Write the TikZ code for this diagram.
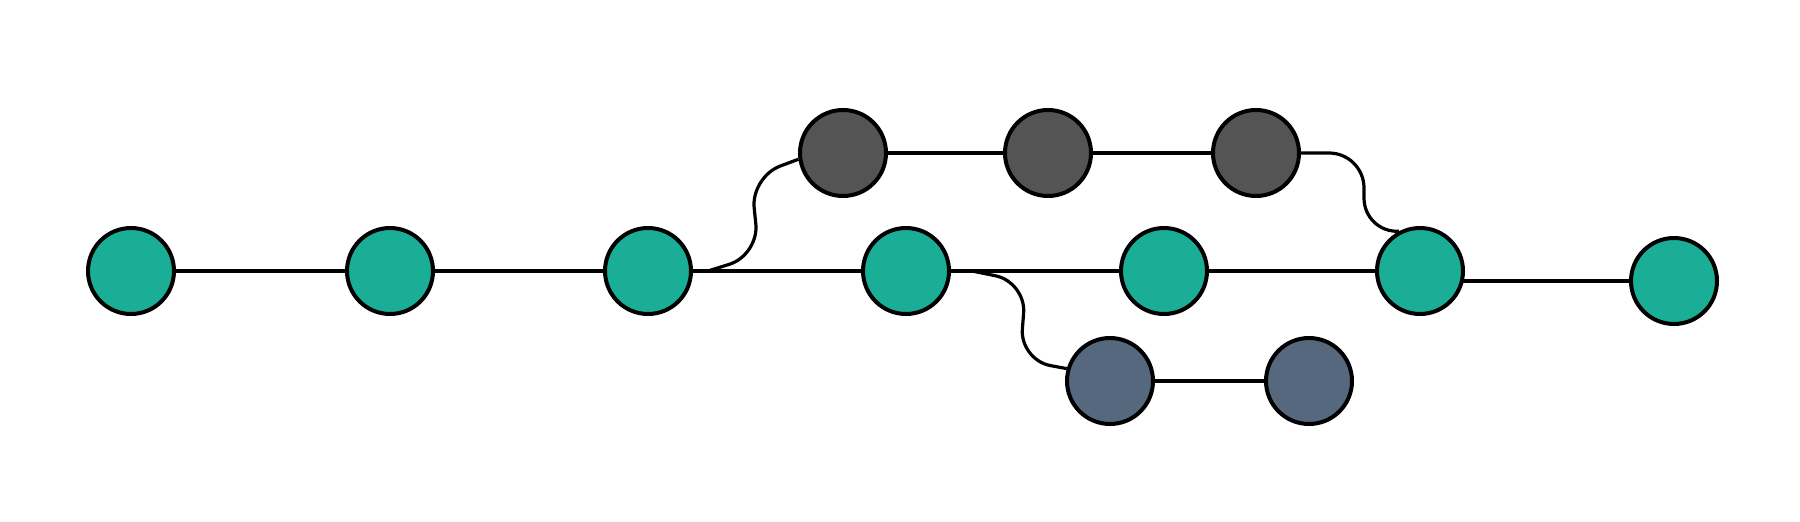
\documentclass[tikz,border=0pt]{standalone}
\usetikzlibrary{backgrounds}
\definecolor{tealc}{HTML}{1AAE96}
\definecolor{darkc}{HTML}{545454}
\definecolor{bluec}{HTML}{55687D}
\tikzset{
  commit/.style={circle, draw=black, line width=4pt, inner sep=0pt, minimum size=86pt},
  tealcommit/.style={commit, fill=tealc},
  darkcommit/.style={commit, fill=darkc},
  bluecommit/.style={commit, fill=bluec},
  link/.style={draw=black, line width=3.2pt},
  branchlink/.style={link, rounded corners=31pt},
}
\begin{document}
\begin{tikzpicture}[x=1pt, y=-1pt]
\useasboundingbox (0,0) rectangle (1800,522);
% main line
\node[tealcommit] (t1) at (131,271) {};
\node[tealcommit] (t2) at (390,271) {};
\node[tealcommit] (t3) at (648,271) {};
\node[tealcommit] (t4) at (906,271) {};
\node[tealcommit] (t5) at (1164,271) {};
\node[tealcommit] (t6) at (1420,271) {};
\node[tealcommit] (t7) at (1674,281) {};
% upper branch
\node[darkcommit] (d1) at (843,153) {};
\node[darkcommit] (d2) at (1048,153) {};
\node[darkcommit] (d3) at (1256,153) {};
% lower branch
\node[bluecommit] (b1) at (1110,381) {};
\node[bluecommit] (b2) at (1309,381) {};
\begin{scope}[on background layer]
  \draw[link] (t1) -- (t2) -- (t3) -- (t4) -- (t5) -- (t6);
  \draw[link] (t6.center |- t7.center) -- (t7.center);
  \draw[link] (d1) -- (d2) -- (d3);
  \draw[link] (b1) -- (b2);
  \draw[branchlink] ([xshift=60pt]t3.center) -- (759,255) -- (751,177) -- (d1.188);
  \draw[branchlink] ([xshift=66pt]t4.center) -- (1026,282) -- (1020,360) -- (b1.164);
  \draw[link, rounded corners=35pt] (d3.center) -- (1364,153) -- (1364,233) -- (t6.118);
\end{scope}
\end{tikzpicture}
\end{document}
